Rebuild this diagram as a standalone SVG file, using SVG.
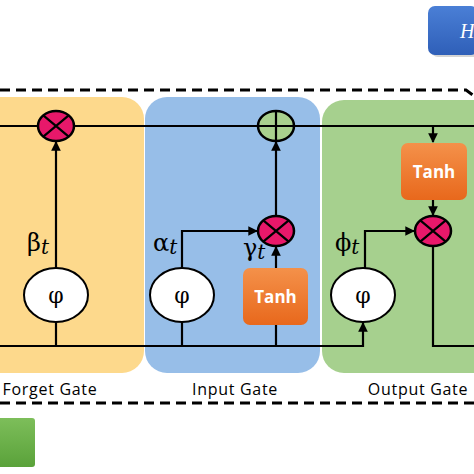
<svg xmlns="http://www.w3.org/2000/svg" width="474" height="474" viewBox="0 0 474 474">
<defs>
<marker id="ah" viewBox="0 0 10 10" refX="9" refY="5" markerWidth="4.4" markerHeight="4.4" orient="auto" markerUnits="strokeWidth"><path d="M0,0 L10,5 L0,10 z" fill="#000"/></marker>
<linearGradient id="og" x1="0" y1="0" x2="0" y2="1"><stop offset="0" stop-color="#F4914A"/><stop offset="1" stop-color="#E8681C"/></linearGradient>
<linearGradient id="bg" x1="0" y1="0" x2="0" y2="1"><stop offset="0" stop-color="#4A7FD6"/><stop offset="1" stop-color="#2F5FB8"/></linearGradient>
<linearGradient id="gg" x1="0" y1="0" x2="0" y2="1"><stop offset="0" stop-color="#7DBE5A"/><stop offset="1" stop-color="#5AA23A"/></linearGradient>
<style>
.ln{stroke:#000;stroke-width:2.2;fill:none}
.dash{stroke:#000;stroke-width:3;fill:none;stroke-dasharray:10 6}
.mul{fill:#E8186A;stroke:#000;stroke-width:2.5}
.phi{fill:#fff;stroke:#000;stroke-width:2}
.tanh{fill:url(#og)}
.tt{font-family:"Open Sans","Liberation Sans",sans-serif;font-weight:bold;font-size:17px;fill:#fff;text-anchor:middle}
.gr{font-family:"DejaVu Serif","Liberation Serif",serif;font-size:24px;fill:#000}
.ph{font-family:"DejaVu Serif","Liberation Serif",serif;font-size:22px;fill:#000;text-anchor:middle}
.sub{font-family:"DejaVu Serif","Liberation Serif",serif;font-style:italic;font-size:20px}
.lbl{font-family:"Open Sans","Liberation Sans",sans-serif;font-size:16px;fill:#000;text-anchor:middle;letter-spacing:0.7px}
</style>
</defs>
<rect width="474" height="474" fill="#fff"/>
<g id="gates">
<rect id="forget-gate" x="-30" y="97" width="174" height="276" rx="22" fill="#FDD98C"/>
<rect id="input-gate" x="145" y="97" width="175" height="276" rx="22" fill="#97BEE8"/>
<rect id="output-gate" x="322" y="100" width="180" height="273" rx="22" fill="#A6D08E"/>
</g>
<g id="frame">
<path class="dash" d="M0,90 H466 L474,96"/>
<line class="dash" x1="0" y1="403" x2="474" y2="403"/>
</g>
<g id="h-box">
<rect x="431" y="9" width="50" height="48" rx="7" fill="#aaa" opacity="0.5"/>
<rect x="428" y="6" width="50" height="49" rx="7" fill="url(#bg)"/>
<text x="460" y="38" font-family="Liberation Serif,serif" font-style="italic" font-size="20" fill="#fff">H</text>
</g>
<rect id="legend-green" x="-5" y="418" width="40" height="49" rx="3" fill="url(#gg)"/>
<g id="connectors">
<line class="ln" x1="0" y1="126" x2="474" y2="126"/>
<line class="ln" x1="56" y1="268" x2="56" y2="142" marker-end="url(#ah)"/>
<line class="ln" x1="276" y1="216" x2="276" y2="142" marker-end="url(#ah)"/>
<polyline class="ln" points="182,268 182,231 257,231" marker-end="url(#ah)"/>
<line class="ln" x1="276" y1="268" x2="276" y2="247" marker-end="url(#ah)"/>
<polyline class="ln" points="365,268 365,231 414,231" marker-end="url(#ah)"/>
<line class="ln" x1="433" y1="126" x2="433" y2="142" marker-end="url(#ah)"/>
<line class="ln" x1="433" y1="200" x2="433" y2="215" marker-end="url(#ah)"/>
<polyline class="ln" points="433,246 433,346 474,346"/>
<polyline class="ln" points="0,346 363,346 363,323" marker-end="url(#ah)"/>
<line class="ln" x1="56" y1="322" x2="56" y2="346"/>
<line class="ln" x1="182" y1="322" x2="182" y2="346"/>
<line class="ln" x1="276" y1="325" x2="276" y2="346"/>
</g>
<g id="forget-mul"><ellipse class="mul" cx="56" cy="126" rx="18" ry="15"/><path class="ln" d="M43.3,115.4 L68.7,136.6 M68.7,115.4 L43.3,136.6"/></g>
<g id="cell-add"><ellipse cx="276" cy="126" rx="18" ry="15" fill="#A9D18E" stroke="#000" stroke-width="2.5"/><path class="ln" d="M258,126 H294 M276,111 V141"/></g>
<g id="input-mul"><ellipse class="mul" cx="276" cy="231" rx="18" ry="15"/><path class="ln" d="M263.3,220.4 L288.7,241.6 M288.7,220.4 L263.3,241.6"/></g>
<g id="output-mul"><ellipse class="mul" cx="433" cy="231" rx="18" ry="15"/><path class="ln" d="M420.3,220.4 L445.7,241.6 M445.7,220.4 L420.3,241.6"/></g>
<g id="forget-phi"><ellipse class="phi" cx="56" cy="295" rx="32" ry="27"/><text class="ph" x="56" y="303">φ</text></g>
<g id="input-phi"><ellipse class="phi" cx="182" cy="295" rx="32" ry="27"/><text class="ph" x="182" y="303">φ</text></g>
<g id="output-phi"><ellipse class="phi" cx="363" cy="295" rx="32" ry="27"/><text class="ph" x="363" y="303">φ</text></g>
<g id="input-tanh"><rect class="tanh" x="243" y="268" width="65" height="57" rx="7"/><text class="tt" x="275.5" y="303">Tanh</text></g>
<g id="output-tanh"><rect class="tanh" x="401" y="143" width="66" height="57" rx="7"/><text class="tt" x="434" y="178">Tanh</text></g>
<g id="greek-labels">
<text class="gr" x="27" y="251">β<tspan class="sub" dy="3">t</tspan></text>
<text class="gr" x="153" y="251">α<tspan class="sub" dy="3">t</tspan></text>
<text class="gr" x="243" y="256">γ<tspan class="sub" dy="3">t</tspan></text>
<text class="gr" x="335" y="251">ϕ<tspan class="sub" dy="3">t</tspan></text>
</g>
<g id="gate-labels">
<text class="lbl" x="50" y="395">Forget Gate</text>
<text class="lbl" x="235" y="395">Input Gate</text>
<text class="lbl" x="418" y="395">Output Gate</text>
</g>
</svg>
